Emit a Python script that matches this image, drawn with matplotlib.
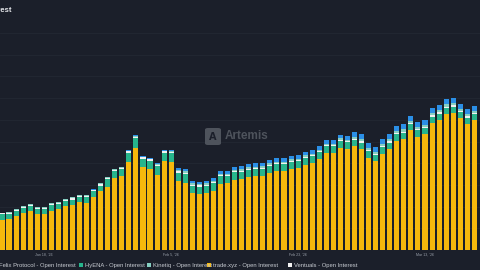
import matplotlib
matplotlib.use("Agg")
import matplotlib.pyplot as plt
from matplotlib.patches import Rectangle, FancyBboxPatch
import numpy as np
import pandas as pd

# daily open interest ($M), stacked bottom -> top
dates = pd.date_range("2026-01-12", periods=68, freq="D")

trade_xyz = [145, 147, 160, 175, 185, 170, 172, 188, 195, 208,
             216, 227, 226, 254, 280, 301, 344, 353, 419, 485,
             395, 385, 359, 422, 421, 328, 320, 269, 266, 269,
             282, 315, 317, 335, 337, 348, 352, 352, 367, 375,
             374, 386, 388, 405, 412, 432, 460, 460, 485, 480,
             495, 482, 440, 423, 459, 481, 521, 527, 569, 539,
             550, 605, 619, 646, 653, 626, 600, 617]
hyena = [24, 24, 25, 24, 25, 24, 23, 25, 24, 25,
         24, 25, 26, 26, 27, 36, 31, 31, 43, 48,
         40, 40, 41, 40, 41, 40, 42, 36, 35, 36,
         36, 37, 36, 35, 34, 33, 33, 34, 33, 33,
         34, 33, 34, 33, 34, 33, 34, 33, 34, 33,
         29, 29, 30, 29, 30, 30, 29, 30, 29, 30,
         29, 30, 29, 31, 30, 29, 30, 29]
ventuals = [6, 6, 7, 6, 6, 6, 7, 6, 6, 6,
            7, 6, 6, 6, 7, 6, 6, 6, 7, 7,
            6, 6, 6, 7, 6, 6, 6, 6, 7, 6,
            6, 6, 6, 6, 7, 6, 6, 6, 6, 6,
            7, 6, 6, 6, 6, 7, 6, 6, 6, 6,
            6, 7, 6, 6, 6, 6, 6, 7, 6, 6,
            6, 6, 7, 6, 6, 6, 6, 6]
kinetiq = [2, 3, 2, 3, 2, 3, 2, 3, 2, 3,
           3, 2, 3, 2, 3, 3, 3, 3, 3, 3,
           3, 3, 3, 3, 3, 5, 6, 6, 5, 6,
           6, 6, 5, 6, 6, 6, 6, 6, 6, 6,
           6, 6, 6, 6, 6, 6, 6, 7, 6, 6,
           9, 10, 10, 9, 10, 10, 10, 11, 10, 10,
           10, 10, 11, 10, 10, 10, 10, 10]
felix = [1, 1, 1, 2, 1, 2, 1, 2, 2, 1,
         2, 2, 1, 2, 2, 2, 2, 2, 4, 5,
         4, 4, 5, 4, 5, 11, 12, 12, 11, 12,
         13, 12, 12, 13, 16, 17, 17, 16, 17, 18,
         17, 17, 18, 17, 18, 17, 18, 18, 17, 18,
         23, 24, 24, 23, 24, 25, 24, 25, 24, 25,
         24, 25, 24, 26, 25, 24, 25, 24]

tick_dates = ["2026-01-18", "2026-02-05", "2026-02-23", "2026-03-13"]
tick_labels = ["Jan 18, '26", "Feb 5, '26", "Feb 23, '26", "Mar 13, '26"]

BG = "#1b1f2a"
series = [
    ("trade.xyz - Open Interest", trade_xyz, "#f6b80c"),
    ("HyENA - Open Interest", hyena, "#27b58c"),
    ("Ventuals - Open Interest", ventuals, "#f2f2f2"),
    ("Kinetiq - Open Interest", kinetiq, "#86cfc2"),
    ("Felix Protocol - Open Interest", felix, "#2b8fe6"),
]

W, H = 480, 270
fig = plt.figure(figsize=(4.8, 2.7), dpi=100, facecolor=BG)

# axes: left edge 0px, baseline at y=250px, top gridline at y=33px
ax = fig.add_axes([0, 20 / H, 1, 217 / H], facecolor=BG)
x = np.arange(len(dates))
bottom = np.zeros(len(dates))
for name, vals, col in series:
    ax.bar(x, vals, width=0.72, bottom=bottom, color=col, linewidth=0, zorder=3)
    bottom += np.array(vals)

ax.set_xlim(-0.28, 67.8)
ax.set_ylim(0, 1033)
ax.set_yticks(np.linspace(0, 1033, 11))
ax.yaxis.grid(True, color="#232833", linewidth=0.6, zorder=0)
ax.tick_params(left=False, labelleft=False, bottom=False, length=0)
for s in ax.spines.values():
    s.set_visible(False)

tick_idx = [dates.get_loc(pd.Timestamp(d)) for d in tick_dates]
ax.set_xticks(tick_idx)
ax.set_xticklabels(tick_labels, fontsize=2.6, color="#9aa0aa", family="Liberation Sans")
ax.tick_params(axis="x", pad=1.5)

# title (cut off at the left edge in the reference)
fig.text(12 / W, 1 - 10 / H, "Open Interest", ha="right", va="center",
         fontsize=5.5, color="#e4e6ea", fontweight="bold", family="Liberation Sans")

# watermark
logo = FancyBboxPatch((205 / W, 1 - 145 / H), 16 / W, 17 / H,
                      boxstyle="round,pad=0,rounding_size=0.006",
                      transform=fig.transFigure, facecolor="#4e535c", edgecolor="none")
fig.patches.append(logo)
fig.text(213 / W, 1 - 136.5 / H, "A", ha="center", va="center", fontsize=7,
         color=BG, fontweight="bold", family="DejaVu Sans")
fig.text(225 / W, 1 - 136 / H, "Artemis", ha="left", va="center", fontsize=8.5,
         color="#4e535c", fontweight="bold", family="Liberation Sans")

# legend (manual, first entry cut at left edge)
legend = [
    ("Felix Protocol - Open Interest", "#2b8fe6", -7),
    ("HyENA - Open Interest", "#27b58c", 79),
    ("Kinetiq - Open Interest", "#86cfc2", 147),
    ("trade.xyz - Open Interest", "#f6b80c", 207),
    ("Ventuals - Open Interest", "#f2f2f2", 288),
]
ly = 265
for label, col, mx in legend:
    fig.patches.append(Rectangle((mx / W, 1 - (ly + 2) / H), 4 / W, 4 / H,
                                 transform=fig.transFigure, facecolor=col, edgecolor="none"))
    fig.text((mx + 6) / W, 1 - ly / H, label, ha="left", va="center", fontsize=4.2,
             color="#c9cdd3", family="Liberation Sans")

fig.savefig("out.png", dpi=100, facecolor=BG)
